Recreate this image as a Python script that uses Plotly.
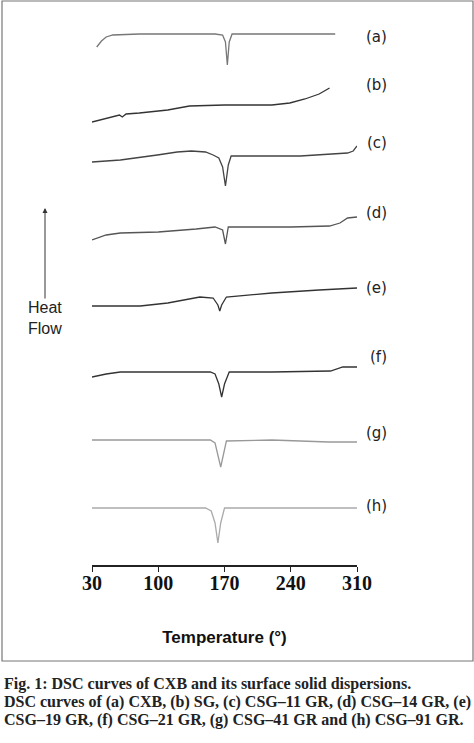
import plotly.graph_objects as go

# Temperature (°C) / relative heat flow (arbitrary units, vertically offset per curve)
labels = ["(a)", "(b)", "(c)", "(d)", "(e)", "(f)", "(g)", "(h)"]
offsets = [531, 460, 410, 335, 265, 193, 125, 57]
tick_vals = [30, 100, 170, 240, 310]

T_a = [35, 40, 45, 52, 80, 120, 160, 168, 171, 173, 175, 178, 200, 240, 287]
H_a = [-13, -7, -3, -1, 0, 0, 0, -1, -8, -31, -8, 0, 0, 0, 0]
T_b = [30, 45, 59, 62, 66, 80, 110, 133, 170, 200, 220, 239, 255, 270, 281]
H_b = [-17, -13, -10, -12, -9, -8, -5, -1, 0, 0, 0, 2, 6, 11, 17]
T_c = [30, 60, 99, 120, 135, 150, 158, 164, 168, 171, 174, 177, 200, 250, 300, 306, 310]
H_c = [-7, -5, 0, 3, 4, 3, 0, -3, -12, -31, -10, -1, -1, -1, 2, 4, 9]
T_d = [30, 45, 60, 100, 140, 160, 168, 171, 174, 190, 240, 281, 292, 300, 310]
H_d = [-10, -5, -3, -2, 1, 3, 0, -14, 3, 3, 3, 4, 7, 12, 13]
T_e = [30, 60, 81, 110, 144, 158, 163, 165, 167, 172, 220, 270, 310]
H_e = [-6, -6, -6, -3, 3, 2, -5, -11, -5, 3, 7, 10, 12]
T_f = [30, 45, 60, 100, 155, 160, 164, 167, 170, 175, 220, 282, 295, 310]
H_f = [-5, -2, 0, 0, 0, -2, -12, -25, -12, 0, 0, 1, 5, 5]
T_g = [30, 100, 155, 160, 163, 166, 169, 172, 220, 280, 310]
H_g = [0, 0, 0, -3, -15, -27, -14, -1, 0, -2, -2]
T_h = [30, 100, 150, 156, 160, 163, 166, 170, 220, 310]
H_h = [0, 0, 0, -3, -15, -35, -15, 0, 0, 0]

Ts = [T_a, T_b, T_c, T_d, T_e, T_f, T_g, T_h]
Hs = [H_a, H_b, H_c, H_d, H_e, H_f, H_g, H_h]
colors = ["#777", "#333", "#444", "#555", "#333", "#333", "#999", "#aaa"]

fig = go.Figure()
for T, H, off, c in zip(Ts, Hs, offsets, colors):
    fig.add_trace(go.Scatter(x=T, y=[off + h for h in H], mode="lines",
                             line=dict(color=c, width=1.3),
                             showlegend=False, hoverinfo="skip"))

label_y = [528, 480, 422, 352, 277, 208, 132, 59]
for lab, ly in zip(labels, label_y):
    fig.add_annotation(x=1.12, xref="paper", y=ly, yref="y", text=lab, showarrow=False,
                       font=dict(family="DejaVu Sans", size=15, color="#222"))

def py(p):  # pixel y -> paper y
    return (565 - p) / 555

def px(p):
    return (p - 92) / 265

fig.add_annotation(x=px(45), y=py(318), xref="paper", yref="paper", showarrow=False,
                   text="Heat<br>Flow", align="left", xanchor="center", yanchor="middle",
                   font=dict(family="Liberation Sans", size=16, color="#222"))
fig.add_annotation(x=px(45), y=py(208), ax=0, ay=92, xref="paper", yref="paper",
                   showarrow=True, arrowhead=2, arrowsize=1,
                   arrowwidth=1, arrowcolor="#333", text="")

fig.add_shape(type="rect", xref="paper", yref="paper", x0=px(2), x1=px(473), y0=py(661), y1=py(1),
              line=dict(color="#777", width=1.2))

caption = ["Fig. 1: DSC curves of CXB and its surface solid dispersions.",
           "DSC curves of (a) CXB, (b) SG, (c) CSG\u201311 GR, (d) CSG\u201314 GR, (e)",
           "CSG\u201319 GR, (f) CSG\u201321 GR, (g) CSG\u201341 GR and (h) CSG\u201391 GR."]
for i, line in enumerate(caption):
    fig.add_annotation(x=px(2), y=py(684 + 18 * i), xref="paper", yref="paper", xanchor="left",
                       yanchor="middle", showarrow=False, text="<b>" + line + "</b>",
                       font=dict(family="Liberation Serif", size=16, color="#222"))

fig.update_layout(
    width=474, height=743, autosize=False,
    margin=dict(l=92, r=117, t=10, b=178),
    paper_bgcolor="white", plot_bgcolor="white",
    xaxis=dict(range=[30, 310], tickvals=tick_vals, ticktext=[f"<b>{v}</b>" for v in tick_vals],
               showline=True, linecolor="#222", linewidth=1.5, ticks="outside", ticklen=5,
               tickcolor="#222", showgrid=False, zeroline=False, ticklabelstandoff=-6,
               tickfont=dict(family="Liberation Serif", size=20, color="#111"),
               title=dict(text="<b>Temperature (°)</b>", standoff=38,
                          font=dict(family="Liberation Sans", size=17, color="#111"))),
    yaxis=dict(range=[0, 555], visible=False),
)
fig.write_html("out.html", config={"displayModeBar": False},
               post_script="document.body.style.margin='0';document.body.style.padding='0';")
